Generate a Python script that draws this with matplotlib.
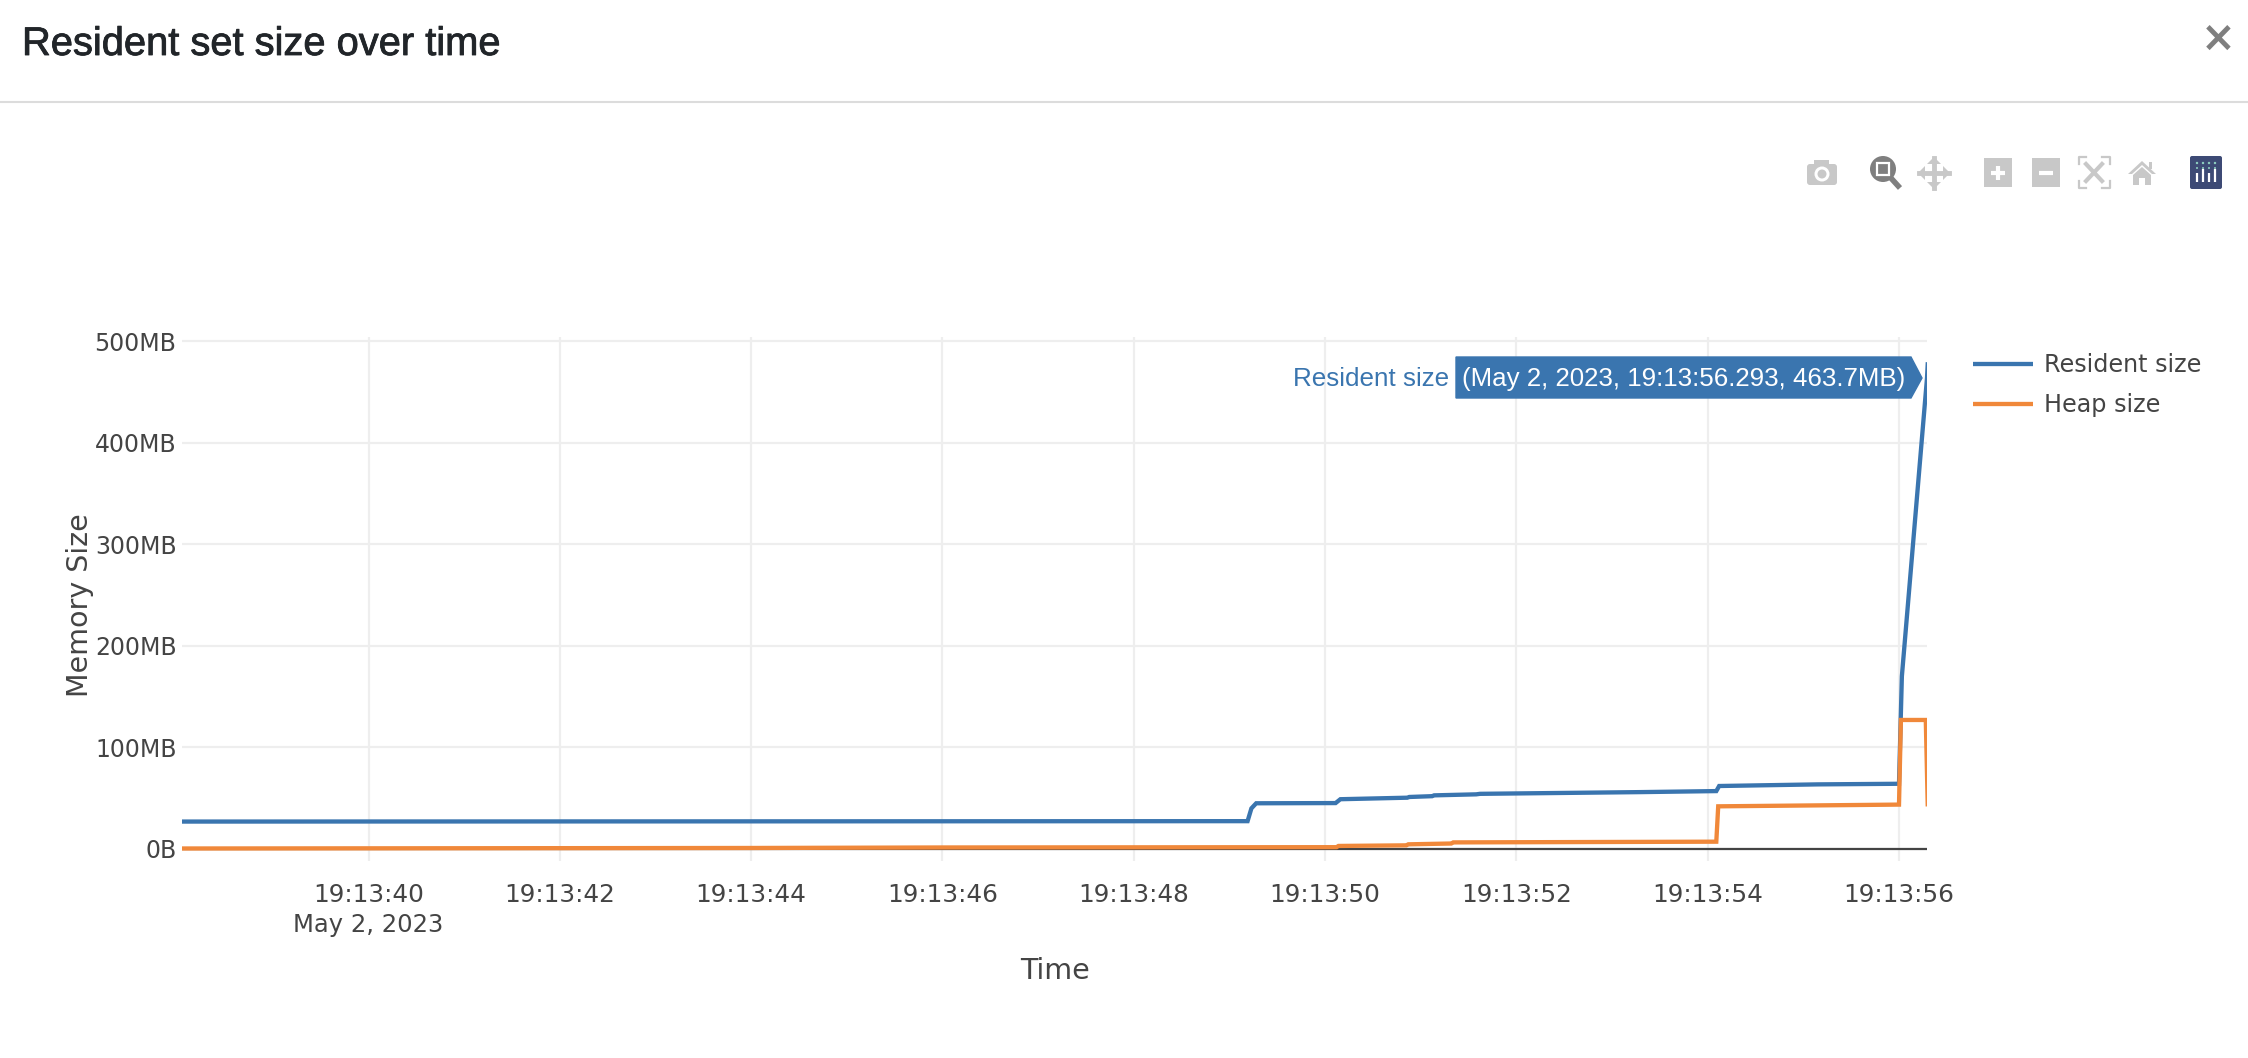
import matplotlib
matplotlib.use("Agg")
import matplotlib.pyplot as plt
import matplotlib.patheffects as pe
from matplotlib.patches import Polygon, Rectangle, Circle, FancyBboxPatch

W, H = 2248, 1058

# ---- data (seconds after 19:13:00, MB) ----
resident_t = [38.05, 49.19, 49.23, 49.28, 50.11, 50.16, 50.86, 50.88, 51.12, 51.14, 51.58, 51.62, 53.30, 54.09, 54.12, 55.15, 56.00, 56.03, 56.293, 56.30]
resident_v = [27.0, 27.4, 40.0, 45.0, 45.2, 49.0, 50.5, 51.2, 52.0, 52.8, 53.8, 54.3, 56.0, 57.0, 62.0, 63.6, 64.2, 170.0, 463.7, 477.0]
heap_t = [38.05, 44.0, 46.0, 50.12, 50.14, 50.85, 50.87, 51.32, 51.34, 54.09, 54.11, 56.00, 56.02, 56.28, 56.30]
heap_v = [0.5, 1.0, 1.5, 1.8, 3.0, 3.6, 4.6, 5.4, 6.5, 7.2, 42.0, 43.7, 127.0, 127.0, 44.0]
x_ticks = [40, 42, 44, 46, 48, 50, 52, 54, 56]
x_labels = ["19:13:40", "19:13:42", "19:13:44", "19:13:46", "19:13:48", "19:13:50", "19:13:52", "19:13:54", "19:13:56"]
y_ticks = [0, 100, 200, 300, 400, 500]
y_labels = ["0B", "100MB", "200MB", "300MB", "400MB", "500MB"]

BLUE, ORANGE = "#3a75af", "#f0883a"
TXT = "#444444"
plt.rcParams["font.family"] = ["DejaVu Sans"]

fig = plt.figure(figsize=(W / 100, H / 100), dpi=100, facecolor="white")

# plot area in pixels
L, R, T, B = 182, 1927, 337, 861
ax = fig.add_axes([L / W, 1 - B / H, (R - L) / W, (B - T) / H])
PX_S = (1899 - 368.5) / 16
PX_MB = (849 - 341) / 500
ax.set_xlim(40 - (368.5 - L) / PX_S, 40 + (R - 368.5) / PX_S)
ax.set_ylim(-(B - 849) / PX_MB, (849 - T) / PX_MB)
for s in ax.spines.values():
    s.set_visible(False)
ax.set_xticks(x_ticks, x_labels)
ax.set_yticks(y_ticks, y_labels)
ax.tick_params(axis="x", length=0, labelsize=17.8, labelcolor=TXT, pad=15.5)
ax.tick_params(axis="y", length=0, labelsize=17, labelcolor=TXT, pad=4)
ax.grid(True, color="#eeeeee", lw=1.6)
ax.set_axisbelow(True)
ax.axhline(0, color=TXT, lw=1.6, zorder=1.5)
line_r, = ax.plot(resident_t, resident_v, color=BLUE, lw=3.1, solid_joinstyle="miter", zorder=3, label="Resident size")
line_h, = ax.plot(heap_t, heap_v, color=ORANGE, lw=3.1, solid_joinstyle="miter", zorder=4, label="Heap size")

# overlay in pixel coordinates for page chrome
ov = fig.add_axes([0, 0, 1, 1], facecolor="none")
ov.set_xlim(0, W)
ov.set_ylim(H, 0)
ov.axis("off")

def txt(x, y, s, **kw):
    kw.setdefault("va", "center")
    kw.setdefault("color", TXT)
    return ov.text(x, y, s, **kw)

# header
t = txt(22, 44, "Resident set size over time", family="Liberation Sans", fontsize=28.7, color="#212529")
t.set_path_effects([pe.withStroke(linewidth=0.6, foreground="#212529")])
ov.plot([0, W], [102, 102], color="#dcdcdc", lw=1.5)
txt(2218, 39, "\u00d7", family="DejaVu Sans", fontsize=30, fontweight="bold", color="#7f7f7f", ha="center")

# axis titles
txt(368.5, 925, "May 2, 2023", fontsize=17.5, ha="center")
txt(1055, 971, "Time", fontsize=20.5, ha="center")
txt(80, 605, "Memory Size", fontsize=20.5, ha="center", rotation=90)

# legend
ov.plot([1973, 2033], [364, 364], color=BLUE, lw=3.1, solid_capstyle="butt")
ov.plot([1973, 2033], [404, 404], color=ORANGE, lw=3.1, solid_capstyle="butt")
txt(2044, 365, line_r.get_label(), fontsize=17.2)
txt(2044, 405, line_h.get_label(), fontsize=17.2)

# hover label
ov.add_patch(Polygon([(1456, 357), (1911, 357), (1922, 378), (1911, 398), (1456, 398)], closed=True, color=BLUE, zorder=5))
txt(1462, 379, "(May 2, 2023, 19:13:56.293, 463.7MB)", family="Liberation Sans", fontsize=18.6, color="white", zorder=6)
txt(1449, 379, "Resident size", family="Liberation Sans", fontsize=18.7, color=BLUE, ha="right", zorder=6)

# toolbar icons
GR = "#c8c8c8"
DK = "#7f7f7f"
# camera
ov.add_patch(FancyBboxPatch((1807, 164), 30, 21, boxstyle="round,pad=0,rounding_size=3", color=GR, lw=0))
ov.add_patch(Rectangle((1814, 160), 15, 6, color=GR, lw=0))
ov.add_patch(Circle((1822, 174), 7.5, color="white", lw=0))
ov.add_patch(Circle((1822, 174), 4.5, color=GR, lw=0))
# zoom
ov.plot([1890, 1900], [177, 188], color=DK, lw=4, solid_capstyle="butt")
ov.add_patch(Circle((1883, 169), 13, color=DK, lw=0))
ov.add_patch(Rectangle((1877, 163), 12, 12, facecolor="#7f7f7f", edgecolor="white", lw=1.6))
# pan
ov.plot([1919, 1949], [173, 173], color=GR, lw=3.5)
ov.plot([1934, 1934], [158, 188], color=GR, lw=3.5)
for pts in ([(1918, 173), (1925, 166), (1925, 180)], [(1950, 173), (1943, 166), (1943, 180)],
            [(1934, 157), (1927, 164), (1941, 164)], [(1934, 189), (1927, 182), (1941, 182)]):
    ov.add_patch(Polygon(pts, closed=True, color=GR, lw=0))
# plus / minus
ov.add_patch(Rectangle((1984, 158), 28, 29, color=GR, lw=0))
ov.plot([1991, 2005], [172.5, 172.5], color="white", lw=3, solid_capstyle="butt")
ov.plot([1998, 1998], [165.5, 179.5], color="white", lw=3, solid_capstyle="butt")
ov.add_patch(Rectangle((2032, 158), 28, 29, color=GR, lw=0))
ov.plot([2039, 2053], [172.5, 172.5], color="white", lw=3, solid_capstyle="butt")
# autoscale
for xs, ys in (([2078.5, 2078.5, 2086], [164, 157, 157]), ([2102, 2109.5, 2109.5], [157, 157, 164]),
               ([2078.5, 2078.5, 2086], [181, 188, 188]), ([2102, 2109.5, 2109.5], [188, 188, 181])):
    ov.plot(xs, ys, color=GR, lw=1.6)
ov.plot([2086, 2102], [164, 181], color=GR, lw=3)
ov.plot([2086, 2102], [181, 164], color=GR, lw=3)
# home
ov.add_patch(Polygon([(2128, 174), (2142, 161), (2156, 174), (2152, 174), (2142, 165), (2132, 174)], closed=True, color=GR, lw=0))
ov.add_patch(Polygon([(2133, 175), (2142, 167), (2151, 175), (2151, 185), (2145, 185), (2145, 178), (2139, 178), (2139, 185), (2133, 185)], closed=True, color=GR, lw=0))
ov.add_patch(Rectangle((2149, 162), 3, 7, color=GR, lw=0))
# plotly logo
ov.add_patch(FancyBboxPatch((2190, 156), 32, 33, boxstyle="round,pad=0,rounding_size=2", color="#3d4a75", lw=0))
for x, top in ((2197, 173), (2203, 169), (2209, 173), (2215, 169)):
    ov.plot([x, x], [top, 182], color="white", lw=1.6, solid_capstyle="butt")
    ov.add_patch(Circle((x, 163), 1.2, color="#8fd0c0", lw=0))
    ov.add_patch(Circle((x, 168), 1.0, color="#8fd0c0", lw=0))

fig.savefig("out.png", dpi=100, facecolor="white")
